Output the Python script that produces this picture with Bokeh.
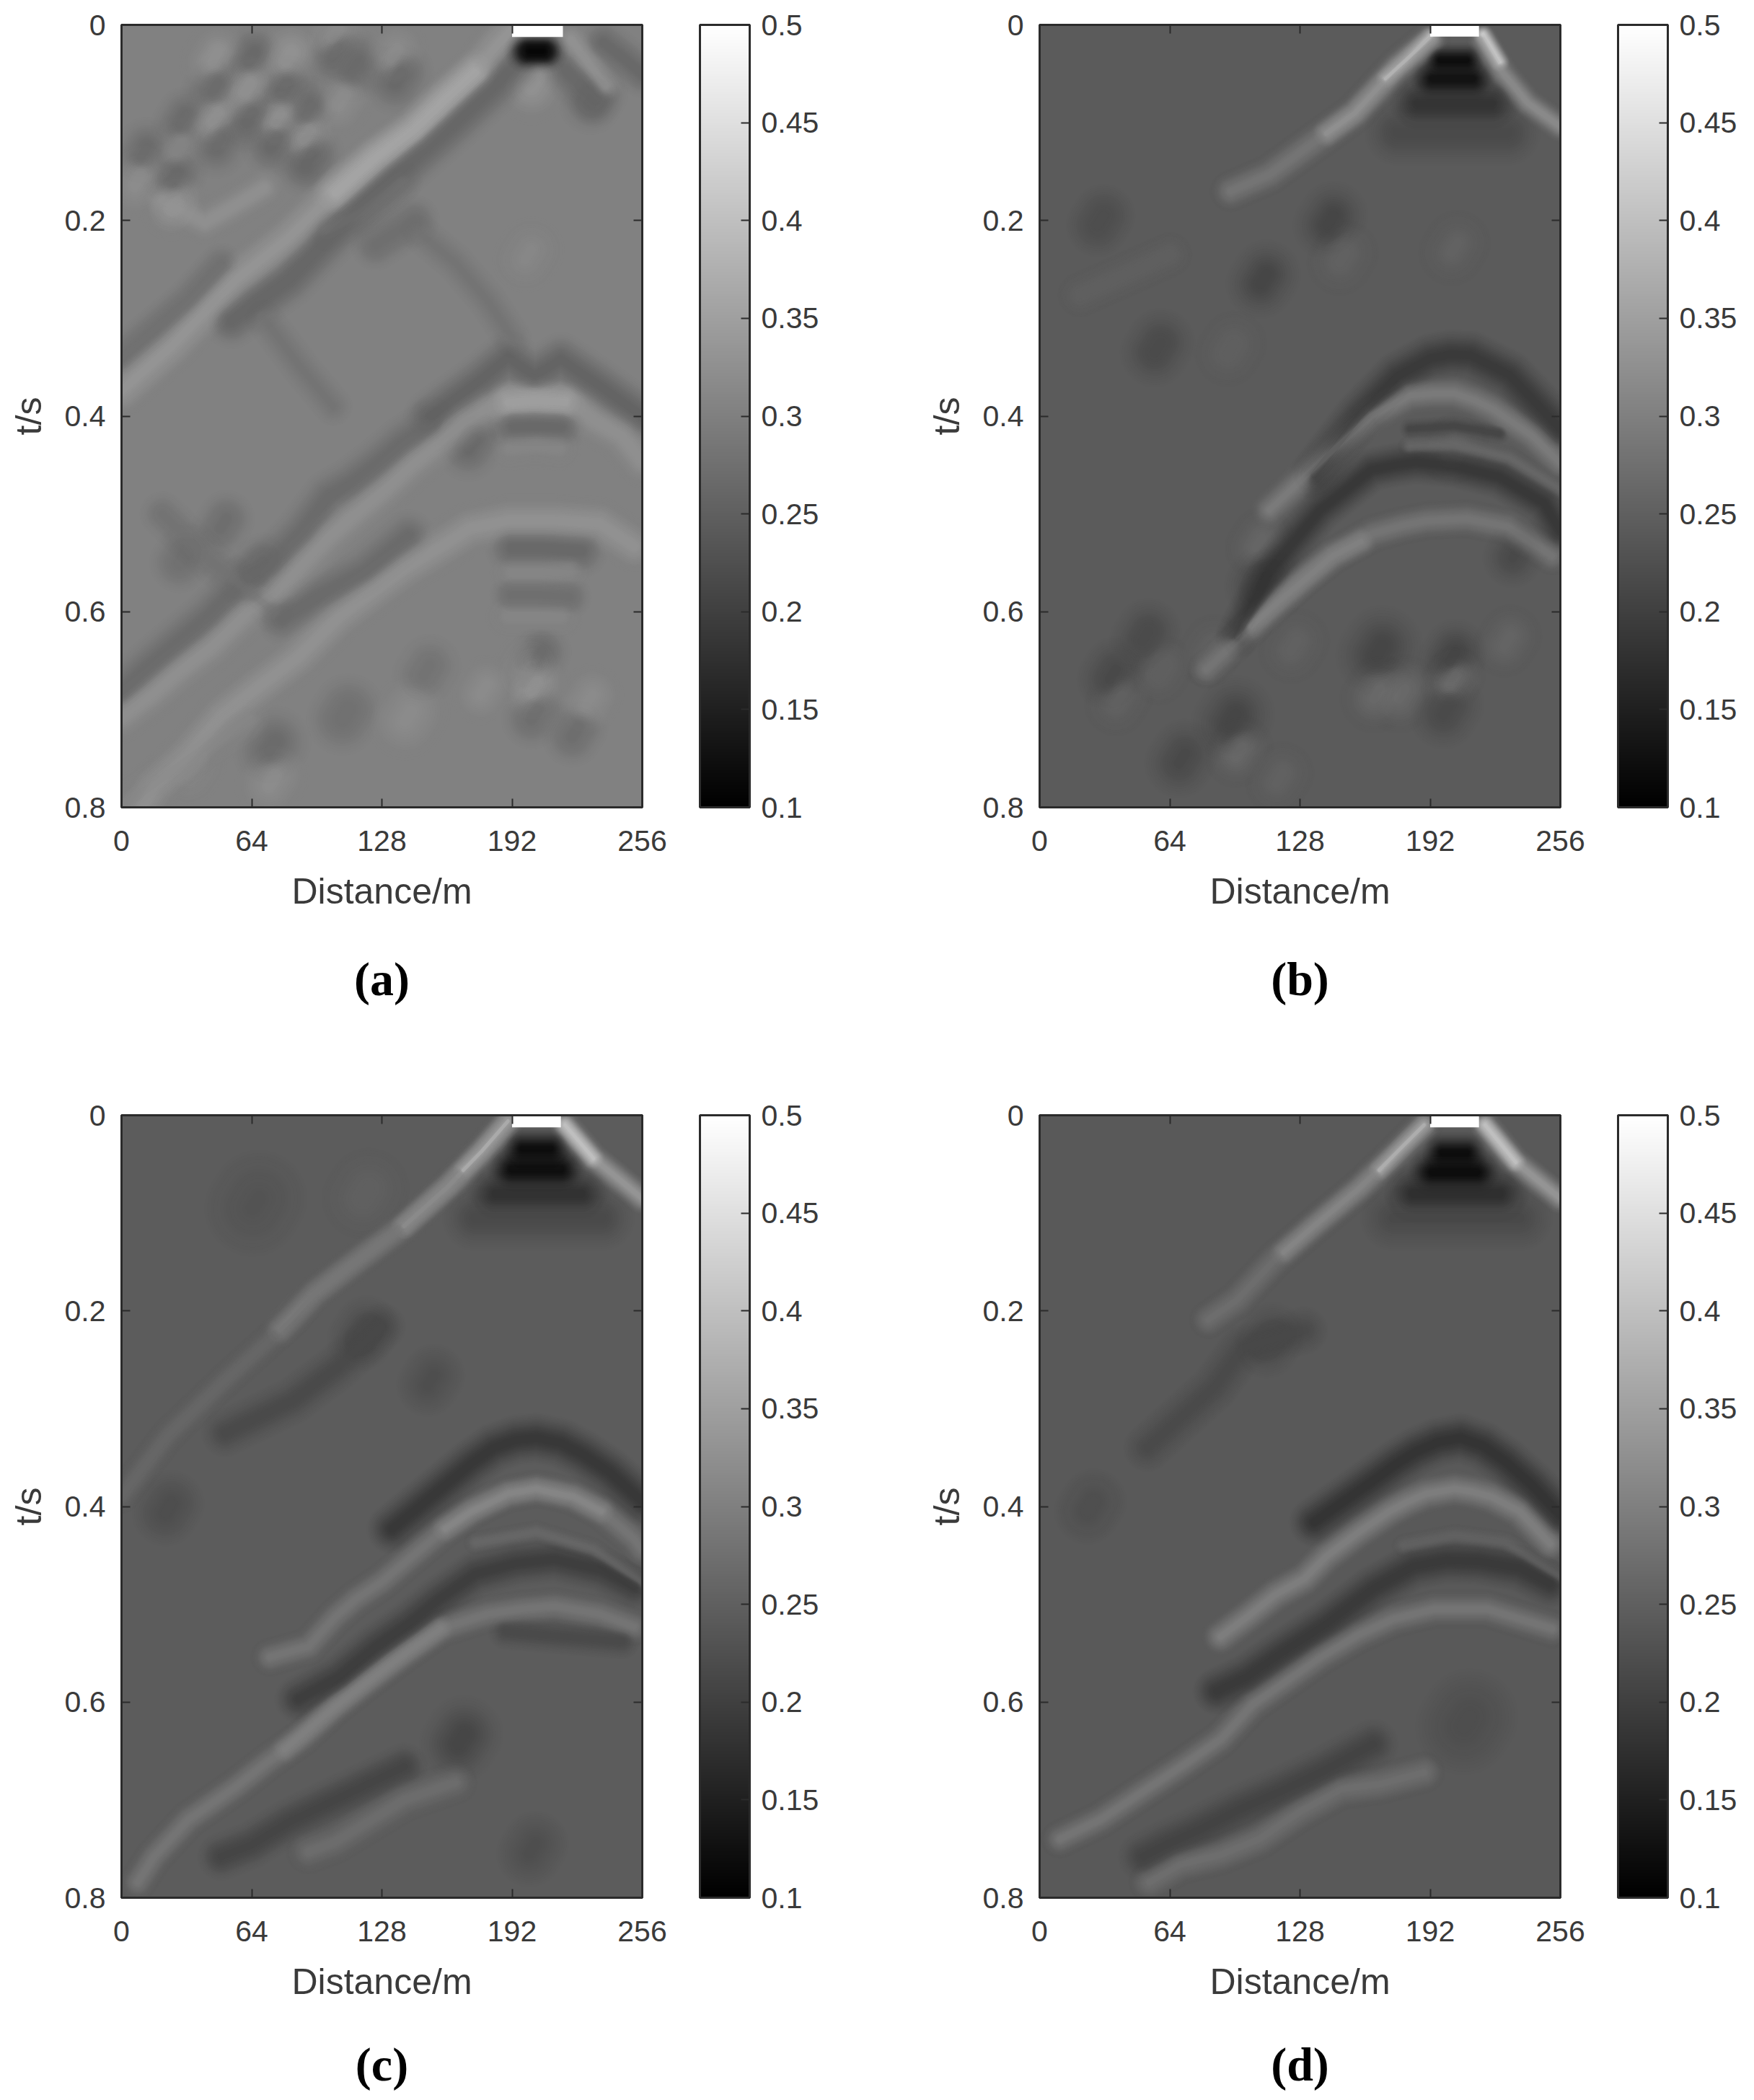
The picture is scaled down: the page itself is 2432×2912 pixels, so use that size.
from bokeh.embed import file_html
from bokeh.resources import INLINE
from bokeh.plotting import figure
from bokeh.layouts import column, row
from bokeh.models import (ColumnDataSource, LinearColorMapper, ColorBar, FixedTicker,
                          LinearAxis, Range1d, Title)
import numpy as np

x_ticks = [0, 64, 128, 192, 256]
t_ticks = [0, 0.2, 0.4, 0.6, 0.8]
cb_ticks = [0.1, 0.15, 0.2, 0.25, 0.3, 0.35, 0.4, 0.45, 0.5]
cb_labels = ["0.1", "0.15", "0.2", "0.25", "0.3", "0.35", "0.4", "0.45", "0.5"]
captions = ["(a)", "(b)", "(c)", "(d)"]
caption_x = [131, 136.5, 130.5, 134.5]

# Every event: (amplitude, band width, distances, times)
a_bg = 0.302
a_lines = [
    (0.275, 30, [0, 33, 49], [0.34, 0.282, 0.246]),
    (0.255, 38, [54, 82, 105, 125, 143, 164, 185, 195], [0.302, 0.261, 0.212, 0.172, 0.138, 0.1, 0.059, 0.038]),
    (0.28, 30, [101, 118, 137], [0.21, 0.192, 0.16]),
    (0.345, 36, [0, 25, 56, 82, 105, 125, 144, 159, 174, 185, 192], [0.374, 0.328, 0.261, 0.218, 0.172, 0.136, 0.108, 0.077, 0.049, 0.02, 0.005]),
    (0.375, 34, [105, 125, 144, 159, 174], [0.172, 0.136, 0.108, 0.077, 0.049]),
    (0.335, 30, [20, 41, 54, 70], [0.18, 0.202, 0.187, 0.167]),
    (0.34, 26, [221, 230, 238], [0.015, 0.041, 0.062]),
    (0.26, 32, [237, 248, 256], [0.018, 0.036, 0.05]),
    (0.26, 36, [218, 233], [0.046, 0.077]),
    (0.283, 26, [145, 164, 180, 192], [0.21, 0.243, 0.282, 0.32]),
    (0.272, 34, [125, 144], [0.225, 0.2]),
    (0.283, 26, [70, 88, 104], [0.3, 0.35, 0.39]),
    (0.25, 36, [152, 176, 190, 197, 203, 210, 216, 233, 256], [0.4, 0.364, 0.34, 0.35, 0.358, 0.35, 0.342, 0.366, 0.4]),
    (0.265, 36, [0, 12, 25, 43, 61, 72, 89, 102, 113, 126, 138, 152], [0.682, 0.659, 0.636, 0.605, 0.566, 0.554, 0.518, 0.482, 0.469, 0.449, 0.428, 0.408]),
    (0.335, 36, [0, 15, 28, 44, 62, 75, 89, 102, 115, 130, 143, 156, 169, 180, 192, 203, 215, 225, 233, 246, 256], [0.707, 0.684, 0.661, 0.636, 0.6, 0.582, 0.551, 0.523, 0.5, 0.474, 0.449, 0.428, 0.405, 0.392, 0.385, 0.384, 0.386, 0.392, 0.405, 0.42, 0.446]),
    (0.37, 34, [190, 203, 218], [0.386, 0.384, 0.386]),
    (0.26, 36, [193, 204, 216], [0.41, 0.41, 0.41]),
    (0.315, 30, [191, 204, 215], [0.433, 0.43, 0.433]),
    (0.265, 36, [79, 97, 120, 141], [0.607, 0.584, 0.559, 0.523]),
    (0.34, 36, [10, 16, 33, 49, 66, 87, 107, 125, 139, 159, 171, 190, 213, 235, 252], [0.8, 0.779, 0.746, 0.707, 0.679, 0.646, 0.605, 0.577, 0.556, 0.531, 0.515, 0.507, 0.507, 0.51, 0.533]),
    (0.26, 36, [192, 207, 226], [0.535, 0.535, 0.538]),
    (0.315, 30, [192, 207, 220], [0.56, 0.56, 0.558]),
    (0.272, 30, [192, 205, 220], [0.583, 0.583, 0.585]),
    (0.315, 30, [190, 205, 216], [0.605, 0.605, 0.605]),
    (0.315, 34, [0, 40, 62], [0.8, 0.74, 0.71]),
    (0.28, 30, [20, 45, 75], [0.5, 0.55, 0.6]),
]
a_dots = [
    (0.335, 44, 46, 0.033), (0.34, 48, 82, 0.033), (0.33, 44, 105, 0.008), (0.33, 42, 134, 0.03),
    (0.34, 46, 62, 0.064), (0.34, 44, 46, 0.095), (0.34, 40, 77, 0.095), (0.34, 42, 91, 0.113),
    (0.33, 44, 108, 0.077), (0.33, 46, 8, 0.159), (0.34, 42, 26, 0.184), (0.315, 40, 28, 0.125),
    (0.26, 40, 64, 0.033), (0.265, 44, 115, 0.044), (0.265, 42, 46, 0.064), (0.26, 42, 80, 0.064),
    (0.26, 44, 136, 0.054), (0.265, 38, 30, 0.097), (0.26, 40, 63, 0.095), (0.265, 42, 48, 0.12),
    (0.26, 40, 75, 0.12), (0.265, 40, 11, 0.13), (0.255, 44, 92, 0.138), (0.26, 40, 26, 0.156),
    (0.265, 40, 92, 0.087), (0.265, 40, 105, 0.028),
    (0.34, 50, 203, 0.059), (0.32, 44, 200, 0.235), (0.265, 42, 232, 0.075),
    (0.27, 38, 50, 0.51), (0.275, 40, 30, 0.545), (0.27, 40, 68, 0.555), (0.26, 44, 172, 0.428),
    (0.26, 40, 205, 0.646), (0.34, 42, 203, 0.677), (0.27, 40, 223, 0.723), (0.27, 40, 203, 0.705),
    (0.325, 52, 141, 0.707), (0.265, 48, 74, 0.738), (0.33, 46, 74, 0.773), (0.275, 48, 110, 0.705),
    (0.32, 48, 200, 0.66), (0.325, 40, 178, 0.68), (0.28, 42, 150, 0.66), (0.325, 42, 230, 0.69), (0.32, 44, 34, 0.76),
]
a_core = [
    (0.5, 17, [192, 217], [0.006, 0.006]),
]
a_blobs = [
    (0.14, 30, [199, 209], [0.027, 0.027]),
    (0.1, 24, [200, 208], [0.027, 0.027]),
    (0.1, 18, [201, 207], [0.027, 0.027]),
]

b_bg = 0.243
b_lines = [
    (0.215, 44, [176, 203, 230], [0.11, 0.11, 0.11]),
    (0.175, 40, [186, 203, 222], [0.08, 0.08, 0.08]),
    (0.11, 30, [193, 213], [0.055, 0.055]),
    (0.1, 24, [197, 210], [0.036, 0.036]),
    (0.3, 28, [94, 113, 141, 155, 176, 192], [0.17, 0.153, 0.111, 0.09, 0.043, 0.015]),
    (0.36, 22, [141, 155, 176, 192], [0.111, 0.09, 0.043, 0.015]),
    (0.46, 15, [170, 180, 192], [0.055, 0.036, 0.012]),
    (0.34, 22, [218, 228, 240, 256], [0.015, 0.05, 0.08, 0.104]),
    (0.46, 15, [218, 226], [0.01, 0.038]),
    (0.258, 30, [20, 64], [0.276, 0.235]),
    (0.185, 34, [135, 157, 176, 192, 202, 212, 231, 256], [0.46, 0.4, 0.359, 0.341, 0.337, 0.338, 0.358, 0.413]),
    (0.31, 26, [113, 141, 163, 182, 193, 204, 214, 223, 242, 256], [0.496, 0.441, 0.4, 0.379, 0.377, 0.377, 0.384, 0.393, 0.42, 0.448]),
    (0.205, 14, [182, 204, 226], [0.413, 0.41, 0.418]),
    (0.27, 16, [182, 204, 231, 256], [0.431, 0.429, 0.443, 0.475]),
    (0.18, 30, [97, 113, 138, 163, 175, 185, 204, 226, 248, 256], [0.626, 0.558, 0.496, 0.455, 0.45, 0.447, 0.451, 0.462, 0.489, 0.517]),
    (0.3, 26, [82, 97, 111, 130, 144, 164, 178, 190, 210, 230, 252], [0.659, 0.63, 0.602, 0.566, 0.543, 0.52, 0.512, 0.507, 0.505, 0.513, 0.543]),
    (0.32, 24, [104, 120, 144, 158], [0.615, 0.585, 0.543, 0.528]),
]
b_dots = [
    (0.205, 46, 110, 0.26), (0.205, 46, 143, 0.2), (0.26, 44, 149, 0.238), (0.258, 44, 94, 0.331),
    (0.218, 46, 58, 0.33), (0.262, 44, 204, 0.228), (0.2, 44, 203, 0.646), (0.205, 54, 167, 0.64),
    (0.2, 48, 110, 0.569), (0.21, 44, 36, 0.664), (0.205, 52, 95, 0.71), (0.21, 46, 70, 0.75),
    (0.218, 44, 52, 0.625), (0.21, 40, 234, 0.54), (0.28, 40, 203, 0.67), (0.275, 46, 166, 0.684),
    (0.275, 46, 178, 0.684), (0.268, 42, 108, 0.53), (0.272, 42, 98, 0.743), (0.26, 42, 118, 0.77),
    (0.26, 42, 39, 0.69), (0.26, 42, 204, 0.433), (0.258, 40, 60, 0.66), (0.265, 42, 230, 0.63),
    (0.26, 42, 84, 0.64), (0.26, 44, 125, 0.635), (0.215, 46, 200, 0.7), (0.222, 42, 30, 0.2),
]
b_core = [
    (0.5, 16, [192, 216], [0.006, 0.006]),
]
b_blobs = []

c_bg = 0.245
c_lines = [
    (0.215, 44, [174, 204, 236], [0.105, 0.105, 0.105]),
    (0.17, 40, [184, 204, 226], [0.08, 0.08, 0.08]),
    (0.1, 34, [192, 216], [0.055, 0.055]),
    (0.1, 28, [197, 211], [0.034, 0.034]),
    (0.27, 24, [0, 23, 51, 84, 95, 117, 139, 161, 177, 190], [0.389, 0.327, 0.271, 0.209, 0.182, 0.147, 0.113, 0.072, 0.037, 0.006]),
    (0.31, 26, [78, 95, 117, 139, 161, 177, 190], [0.219, 0.182, 0.147, 0.113, 0.072, 0.037, 0.006]),
    (0.37, 20, [139, 161, 177, 190], [0.113, 0.072, 0.037, 0.006]),
    (0.47, 16, [168, 177, 190], [0.056, 0.037, 0.006]),
    (0.47, 16, [218, 232], [0.01, 0.044]),
    (0.36, 22, [218, 232, 256], [0.01, 0.044, 0.085]),
    (0.215, 32, [51, 84, 106, 128], [0.325, 0.292, 0.258, 0.216]),
    (0.18, 34, [133, 161, 172, 183, 194, 204, 216, 227, 240, 256], [0.423, 0.375, 0.356, 0.34, 0.332, 0.33, 0.335, 0.347, 0.365, 0.395]),
    (0.3, 26, [73, 92, 105, 115, 128, 144, 159, 172, 181, 190, 204, 213, 222, 236, 252, 256], [0.554, 0.543, 0.513, 0.495, 0.477, 0.449, 0.423, 0.405, 0.395, 0.387, 0.382, 0.385, 0.39, 0.405, 0.433, 0.444]),
    (0.33, 22, [159, 172, 190, 204, 222, 236], [0.423, 0.405, 0.387, 0.382, 0.39, 0.405]),
    (0.19, 32, [87, 107, 125, 141, 156, 174, 194, 213, 236, 252], [0.597, 0.574, 0.543, 0.52, 0.495, 0.469, 0.458, 0.454, 0.465, 0.482]),
    (0.27, 16, [174, 204, 232, 256], [0.437, 0.426, 0.444, 0.478]),
    (0.3, 26, [8, 16, 33, 56, 72, 89, 105, 121, 139, 157, 180, 196, 213, 235, 252], [0.784, 0.758, 0.72, 0.687, 0.661, 0.636, 0.605, 0.579, 0.551, 0.525, 0.51, 0.505, 0.502, 0.51, 0.523]),
    (0.315, 22, [80, 105, 121, 139, 157], [0.649, 0.605, 0.579, 0.551, 0.525]),
    (0.215, 24, [189, 217, 246], [0.528, 0.533, 0.538]),
    (0.2, 32, [49, 64, 82, 105, 139], [0.758, 0.746, 0.723, 0.7, 0.666]),
    (0.28, 30, [92, 105, 139, 164], [0.753, 0.743, 0.7, 0.682]),
]
c_dots = [
    (0.21, 44, 119, 0.223), (0.222, 44, 23, 0.402), (0.225, 42, 152, 0.271), (0.205, 52, 167, 0.638),
    (0.225, 44, 202, 0.75), (0.258, 54, 120, 0.08), (0.232, 64, 66, 0.09),
]
c_core = [
    (0.5, 17, [192, 216], [0.006, 0.006]),
]
c_blobs = []

d_bg = 0.24
d_lines = [
    (0.21, 44, [174, 204, 236], [0.105, 0.105, 0.105]),
    (0.165, 40, [184, 204, 226], [0.08, 0.08, 0.08]),
    (0.1, 34, [193, 215], [0.058, 0.058]),
    (0.1, 28, [198, 210], [0.038, 0.038]),
    (0.285, 26, [83, 97, 116, 135, 157, 176, 189], [0.209, 0.189, 0.147, 0.113, 0.075, 0.037, 0.01]),
    (0.34, 22, [120, 135, 157, 176, 189], [0.14, 0.113, 0.075, 0.037, 0.01]),
    (0.47, 16, [167, 176, 189], [0.056, 0.037, 0.01]),
    (0.47, 16, [219, 234], [0.01, 0.048]),
    (0.36, 22, [219, 234, 256], [0.01, 0.048, 0.085]),
    (0.215, 32, [53, 86, 100, 130], [0.34, 0.278, 0.238, 0.22]),
    (0.175, 34, [135, 163, 175, 185, 196, 207, 218, 229, 242, 256], [0.416, 0.375, 0.357, 0.344, 0.334, 0.33, 0.338, 0.354, 0.378, 0.409]),
    (0.32, 26, [89, 102, 116, 130, 141, 157, 172, 181, 190, 204, 213, 222, 236, 251], [0.533, 0.513, 0.49, 0.474, 0.451, 0.426, 0.405, 0.395, 0.387, 0.382, 0.385, 0.39, 0.405, 0.438]),
    (0.185, 32, [87, 102, 118, 141, 164, 184, 200, 216, 236, 251], [0.589, 0.574, 0.551, 0.52, 0.484, 0.461, 0.455, 0.456, 0.463, 0.479]),
    (0.26, 16, [179, 204, 229, 256], [0.44, 0.43, 0.437, 0.472]),
    (0.3, 26, [10, 30, 49, 71, 89, 105, 121, 138, 157, 174, 194, 220, 252], [0.74, 0.72, 0.694, 0.664, 0.638, 0.602, 0.579, 0.554, 0.531, 0.515, 0.505, 0.505, 0.525]),
    (0.2, 34, [51, 62, 79, 98, 121, 141, 164], [0.758, 0.746, 0.73, 0.71, 0.689, 0.669, 0.643]),
    (0.285, 28, [54, 69, 89, 108, 128, 148, 167, 189], [0.784, 0.766, 0.756, 0.74, 0.712, 0.689, 0.684, 0.672]),
]
d_dots = [
    (0.215, 44, 113, 0.23), (0.228, 44, 25, 0.4), (0.222, 64, 210, 0.62),
]
d_core = [
    (0.5, 17, [192, 216], [0.006, 0.006]),
]
d_blobs = []

INK = "#2b2b2b"
TXT = "#3a3a3a"
mapper = LinearColorMapper(palette=[f"#{i:02x}{i:02x}{i:02x}" for i in range(256)], low=0.1, high=0.5)
FW, FH = 722, 1085
# stacked translucent passes, faint when wide and stronger when narrow, give each band a soft profile
LAYERS = [(2.1 - 1.8 * k / 13, 0.012 + 0.014 * k) for k in range(14)]


def panel(i, bg, lines, dots, blobs, core, left, right, top, bottom, cap_gap):
    p = figure(frame_width=FW, frame_height=FH, x_range=Range1d(0, 256), y_range=Range1d(0.8, 0),
               output_backend="svg", toolbar_location=None,
               min_border_left=left, min_border_right=right, min_border_top=top, min_border_bottom=bottom,
               x_axis_label="Distance/m", y_axis_label="t/s")
    p.grid.visible = False
    p.outline_line_color = INK
    p.outline_line_width = 3
    p.image(image=[np.array([[bg]])], x=0, y=0, dw=256, dh=0.8, color_mapper=mapper)

    def soft(strokes):
        if not strokes:
            return
        for scale, alpha in LAYERS:
            src = ColumnDataSource(dict(xs=[s[2] for s in strokes], ys=[s[3] for s in strokes],
                                        v=[s[0] for s in strokes], w=[s[1] * scale for s in strokes]))
            p.multi_line("xs", "ys", source=src, line_color={"field": "v", "transform": mapper},
                         line_width="w", line_alpha=alpha, line_cap="round", line_join="round")

    soft([(d[0], d[1], [d[2] - 1.5, d[2] + 1.5], [d[3] + 0.005, d[3] - 0.005]) for d in dots])
    soft(lines)
    soft(blobs)
    src = ColumnDataSource(dict(xs=[s[2] for s in core], ys=[s[3] for s in core],
                                v=[s[0] for s in core], w=[s[1] for s in core]))
    p.multi_line("xs", "ys", source=src, line_color={"field": "v", "transform": mapper},
                 line_width="w", line_alpha=1.0, line_cap="butt")

    xover = {v: str(v) for v in x_ticks}
    tover = {v: ("0" if v == 0 else str(v)) for v in t_ticks}
    for ax, ticks, over in ((p.xaxis[0], x_ticks, xover), (p.yaxis[0], t_ticks, tover)):
        ax.ticker = FixedTicker(ticks=ticks)
        ax.major_label_overrides = over
        ax.major_tick_in = 12
        ax.major_tick_out = 0
        ax.minor_tick_line_color = None
        ax.major_tick_line_color = INK
        ax.major_tick_line_width = 2
        ax.axis_line_color = INK
        ax.axis_line_width = 3
        ax.major_label_text_font = "Liberation Sans"
        ax.major_label_text_font_size = "41px"
        ax.major_label_text_color = TXT
        ax.axis_label_text_font = "Liberation Sans"
        ax.axis_label_text_font_size = "50px"
        ax.axis_label_text_font_style = "normal"
        ax.axis_label_text_color = TXT
    p.xaxis[0].major_label_standoff = 32
    p.yaxis[0].major_label_standoff = 22
    p.xaxis[0].axis_label_standoff = 25
    p.yaxis[0].axis_label_standoff = 19

    for place, ticks in (("above", x_ticks), ("right", t_ticks)):
        ax = LinearAxis(ticker=FixedTicker(ticks=ticks), major_label_overrides={v: "" for v in ticks},
                        major_tick_in=12, major_tick_out=0, minor_tick_line_color=None,
                        major_tick_line_color=INK, major_tick_line_width=2,
                        axis_line_color=INK, axis_line_width=3, major_label_standoff=0)
        p.add_layout(ax, place)

    cb = ColorBar(color_mapper=mapper, location=(802, 0), width=69, height=FH, padding=0, margin=0,
                  ticker=FixedTicker(ticks=cb_ticks),
                  major_label_overrides=dict(zip(cb_ticks, cb_labels)),
                  major_label_text_font="Liberation Sans", major_label_text_font_size="41px",
                  major_label_text_color=TXT, major_tick_line_color=INK, major_tick_line_width=2,
                  major_tick_in=12, major_tick_out=0, minor_tick_line_color=None,
                  bar_line_color=INK, bar_line_width=3, label_standoff=16, border_line_color=None,
                  background_fill_color=None)
    p.add_layout(cb, "center")

    p.add_layout(Title(text=captions[i], align="center", offset=(caption_x[i] - 128) * FW / 256,
                       standoff=cap_gap, text_font="Liberation Serif", text_font_style="bold",
                       text_font_size="66px", text_color="#000000"), "below")
    return p


pa = panel(0, a_bg, a_lines, a_dots, a_blobs, a_core, 168, 280, 34, 397, 105)
pb = panel(1, b_bg, b_lines, b_dots, b_blobs, b_core, 271, 255, 34, 397, 105)
pc = panel(2, c_bg, c_lines, c_dots, c_blobs, c_core, 168, 280, 30, 278, 90)
pd = panel(3, d_bg, d_lines, d_dots, d_blobs, d_core, 271, 255, 30, 278, 90)

page = column(row(pa, pb, spacing=0), row(pc, pd, spacing=0), spacing=0)
open("out.html", "w").write(file_html(page, INLINE))
